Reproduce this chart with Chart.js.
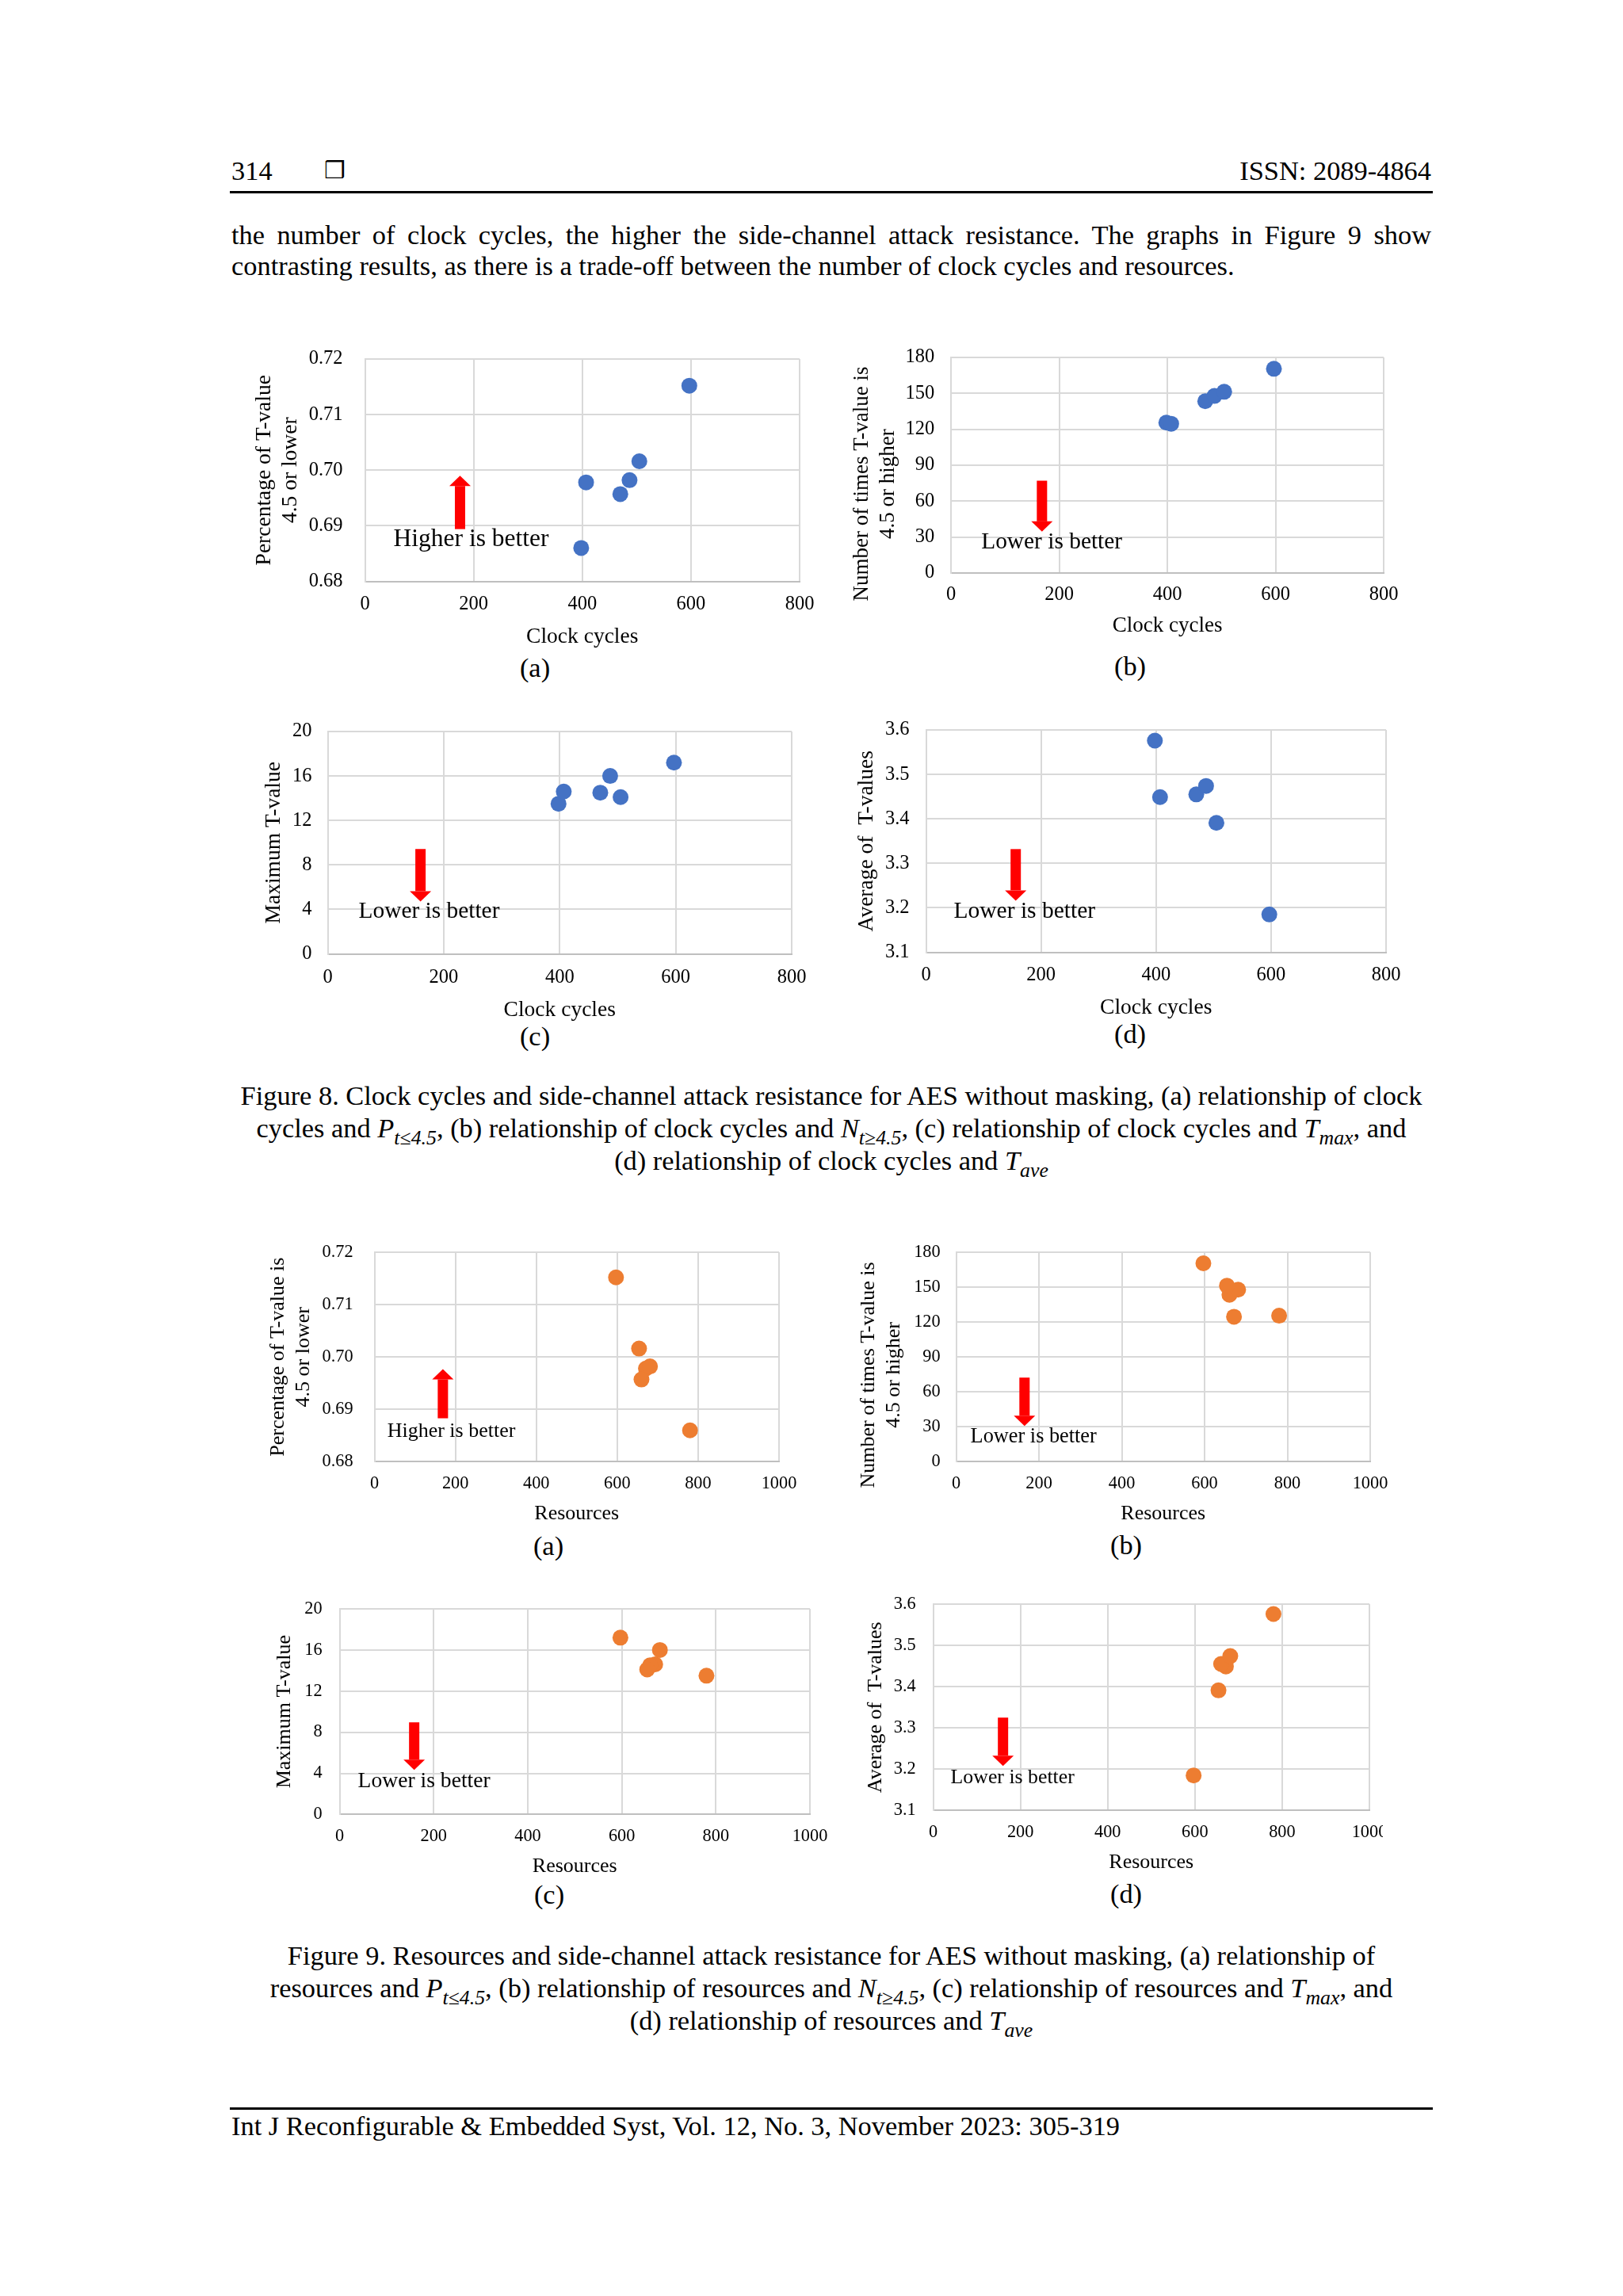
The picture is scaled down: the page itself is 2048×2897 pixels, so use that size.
<!DOCTYPE html>
<html>
<head>
<meta charset="utf-8">
<script src="https://cdn.jsdelivr.net/npm/chart.js@4.4.0/dist/chart.umd.min.js"></script>
<style>
    body { margin: 0; background: #fff; }
    #page { position: relative; width: 2048px; height: 2897px; font-family: "Liberation Serif", "Times New Roman", serif; color: #000; overflow: hidden; }
    .t { position: absolute; font-size: 34.4px; line-height: 40px; white-space: nowrap; }
    .cap { position: absolute; left: 292px; width: 1514px; font-size: 34.4px; line-height: 41px; text-align: center; white-space: nowrap; }
    .rule { position: absolute; left: 290px; width: 1518px; height: 3px; background: #000; }
    .lbl { position: absolute; font-size: 34.4px; line-height: 40px; transform: translateX(-50%); }
    .m { font-style: italic; }
    .m sub { font-size: 0.75em; line-height: 0; vertical-align: -0.35em; }
    .box { position: absolute; overflow: hidden; }
    .box canvas { position: absolute; left: 0; top: 0; }
</style>
</head>
<body>
<div id="page">
    <div class="t" style="left:292px; top:195px;">314</div>
    <div class="t" style="left:409px; top:195px; font-family:'DejaVu Sans'; font-size:30px;">❒</div>
    <div class="t" style="right:242px; top:195px;">ISSN: 2089-4864</div>
    <div class="rule" style="top:241px;"></div>

    <div class="t" style="left:292px; top:276px; width:1514px; white-space:normal; text-align:justify; text-align-last:justify;">the number of clock cycles, the higher the side-channel attack resistance. The graphs in Figure 9 show</div>
    <div class="t" style="left:292px; top:315px;">contrasting results, as there is a trade-off between the number of clock cycles and resources.</div>

    <div class="lbl" style="left:675px; top:822px;">(a)</div>
    <div class="lbl" style="left:1426px; top:820px;">(b)</div>
    <div class="lbl" style="left:675px; top:1287px;">(c)</div>
    <div class="lbl" style="left:1426px; top:1284px;">(d)</div>

    <div class="cap" style="top:1362px;">
        Figure 8. Clock cycles and side-channel attack resistance for AES without masking, (a) relationship of clock<br>
        cycles and <span class="m">P<sub>t≤4.5</sub></span>, (b) relationship of clock cycles and <span class="m">N<sub>t≥4.5</sub></span>, (c) relationship of clock cycles and <span class="m">T<sub>max</sub></span>, and<br>
        (d) relationship of clock cycles and <span class="m">T<sub>ave</sub></span>
    </div>

    <div class="lbl" style="left:692px; top:1930px;">(a)</div>
    <div class="lbl" style="left:1421px; top:1929px;">(b)</div>
    <div class="lbl" style="left:693px; top:2370px;">(c)</div>
    <div class="lbl" style="left:1421px; top:2369px;">(d)</div>

    <div class="cap" style="top:2447px;">
        Figure 9. Resources and side-channel attack resistance for AES without masking, (a) relationship of<br>
        resources and <span class="m">P<sub>t≤4.5</sub></span>, (b) relationship of resources and <span class="m">N<sub>t≥4.5</sub></span>, (c) relationship of resources and <span class="m">T<sub>max</sub></span>, and<br>
        (d) relationship of resources and <span class="m">T<sub>ave</sub></span>
    </div>

    <div class="rule" style="top:2659px;"></div>
    <div class="t" style="left:292px; top:2662px;">Int J Reconfigurable &amp; Embedded Syst, Vol. 12, No. 3, November 2023: 305-319</div>
</div>

<script>
// six AES designs, same order in every array
const clockCycles = [398, 407, 470, 487, 505, 597];
const resources = [780, 671, 660, 681, 654, 597];
const ptLow = [0.686, 0.6978, 0.6957, 0.6982, 0.7016, 0.7152];   // P t<=4.5
const nHigh = [125.5, 124.6, 143.4, 147.8, 151.3, 170.5];        // N t>=4.5
const tMax = [13.5, 14.6, 14.5, 16.0, 14.1, 17.2];
const tAve = [3.576, 3.449, 3.455, 3.474, 3.391, 3.185];

const clockTicks = ['0', '200', '400', '600', '800'];
const resourceTicks = ['0', '200', '400', '600', '800', '1000'];
const ptTicks = ['0.68', '0.69', '0.70', '0.71', '0.72'];
const nTicks = ['0', '30', '60', '90', '120', '150', '180'];
const tMaxTicks = ['0', '4', '8', '12', '16', '20'];
const tAveTicks = ['3.1', '3.2', '3.3', '3.4', '3.5', '3.6'];

const BLUE = '#4472C4';
const ORANGE = '#ED7D31';
const FONT = '"Liberation Serif", "Times New Roman", serif';
const PAD_TOP = 50;   // room above the plot, bigger than chart.js' own label padding
const PAD_RIGHT = 60;

const T_PCT = ['Percentage of T-value', '4.5 or lower'];
// trailing spaces push the rotated title a bit down, as in the original
const T_NUM = ['Number of times T-value is       ', '4.5 or higher       '];

// box = plot area [left, top, width, height] on the page
const charts = [
    { xs: clockCycles, ys: ptLow, xTicks: clockTicks, yTicks: ptTicks, color: BLUE, xTitle: 'Clock cycles', yTitle: T_PCT,
      box: [460, 453, 548, 280], yTitleX: 333, gap: 28, xTickY: 762, xTitleY: 803, tick: 24.5, title: 27.5,
      note: { text: 'Higher is better', size: 31.5, x: 52.6, y: 0.6864, ax: 175, from: 0.6894, to: 0.699 } },
    { xs: clockCycles, ys: nHigh, xTicks: clockTicks, yTicks: nTicks, color: BLUE, xTitle: 'Clock cycles', yTitle: T_NUM,
      box: [1200, 451, 546, 272], yTitleX: 1088, gap: 21, xTickY: 751, xTitleY: 790, tick: 24.5, title: 27,
      note: { text: 'Lower is better', size: 29.4, x: 55.7, y: 20.5, ax: 168, from: 77, to: 34.4 } },
    { xs: clockCycles, ys: tMax, xTicks: clockTicks, yTicks: tMaxTicks, color: BLUE, xTitle: 'Clock cycles', yTitle: 'Maximum T-value',
      box: [413, 923, 585, 280], yTitleX: 345, gap: 20, xTickY: 1233, xTitleY: 1274, tick: 24.5, title: 27.5,
      note: { text: 'Lower is better', size: 29.4, x: 53.3, y: 3.21, ax: 160, from: 9.43, to: 4.71 } },
    { xs: clockCycles, ys: tAve, xTicks: clockTicks, yTicks: tAveTicks, color: BLUE, xTitle: 'Clock cycles', yTitle: 'Average of  T-values',
      box: [1168, 921, 580, 280], yTitleX: 1093, gap: 21, xTickY: 1230, xTitleY: 1271, tick: 24.5, title: 27.5,
      note: { text: 'Lower is better', size: 29.5, x: 48.3, y: 3.177, ax: 156, from: 3.332, to: 3.216 } },
    { xs: resources, ys: ptLow, xTicks: resourceTicks, yTicks: ptTicks, color: ORANGE, xTitle: 'Resources', yTitle: ['Percentage of T-value is', '4.5 or lower'],
      box: [473, 1580, 510, 264], yTitleX: 352, gap: 27, xTickY: 1872, xTitleY: 1910, tick: 22.3, title: 26,
      note: { text: 'Higher is better', size: 26, x: 31.4, y: 0.6848, ax: 169, from: 0.6883, to: 0.6977 } },
    { xs: resources, ys: nHigh, xTicks: resourceTicks, yTicks: nTicks, color: ORANGE, xTitle: 'Resources', yTitle: T_NUM,
      box: [1207, 1580, 522, 264], yTitleX: 1097, gap: 20, xTickY: 1872, xTitleY: 1910, tick: 22.3, title: 26,
      note: { text: 'Lower is better', size: 26.3, x: 34.5, y: 16.4, ax: 165, from: 72.3, to: 30.7 } },
    { xs: resources, ys: tMax, xTicks: resourceTicks, yTicks: tMaxTicks, color: ORANGE, xTitle: 'Resources', yTitle: 'Maximum T-value',
      box: [429, 2030, 593, 259], yTitleX: 360, gap: 22, xTickY: 2317, xTitleY: 2355, tick: 22.3, title: 26,
      note: { text: 'Lower is better', size: 27.6, x: 38.8, y: 2.63, ax: 158.5, from: 8.96, to: 4.33 } },
    { xs: resources, ys: tAve, xTicks: resourceTicks, yTicks: tAveTicks, color: ORANGE, xTitle: 'Resources', yTitle: 'Average of  T-values',
      box: [1178, 2024, 550, 260], yTitleX: 1106, gap: 22, xTickY: 2312, xTitleY: 2350, tick: 22.3, title: 26, clipRight: 1745,
      note: { text: 'Lower is better', size: 25.8, x: 40, y: 3.167, ax: 160, from: 3.325, to: 3.208 } }
];

function notePlugin(n) {
    return {
        id: 'note',
        afterDraw(chart) {
            const { ctx, scales: { x, y } } = chart;
            const px = x.getPixelForValue(n.ax);
            const p0 = y.getPixelForValue(n.from);
            const p1 = y.getPixelForValue(n.to);
            const dir = Math.sign(p1 - p0);
            const headBase = p1 - dir * 13;
            ctx.save();
            ctx.fillStyle = '#ff0000';
            ctx.fillRect(px - 6.5, Math.min(p0, headBase), 13, Math.abs(headBase - p0));
            ctx.beginPath();
            ctx.moveTo(px - 13.5, headBase);
            ctx.lineTo(px + 13.5, headBase);
            ctx.lineTo(px, p1);
            ctx.closePath();
            ctx.fill();
            ctx.fillStyle = '#000';
            ctx.font = `${n.size}px ${FONT}`;
            ctx.textBaseline = 'alphabetic';
            ctx.fillText(n.text, x.getPixelForValue(n.x), y.getPixelForValue(n.y));
            ctx.restore();
        }
    };
}

function build(c) {
    const [L, T, W, H] = c.box;
    const lh = c.title * 1.2;
    const left = c.yTitleX - lh / 2;
    const yw = L - left;
    const xh = c.xTitleY - (T + H) + lh / 2;
    const cw = Math.round(yw + W + PAD_RIGHT);
    const ch = Math.round(PAD_TOP + H + xh);

    const wrap = document.createElement('div');
    wrap.className = 'box';
    wrap.style.left = left + 'px';
    wrap.style.top = (T - PAD_TOP) + 'px';
    wrap.style.width = (c.clipRight ? c.clipRight - left : cw) + 'px';
    wrap.style.height = ch + 'px';
    const cv = document.createElement('canvas');
    cv.width = cw;
    cv.height = ch;
    wrap.appendChild(cv);
    document.getElementById('page').appendChild(wrap);

    const xv = c.xTicks.map(Number);
    const yv = c.yTicks.map(Number);
    const tickFont = { family: FONT, size: c.tick };
    const titleFont = { family: FONT, size: c.title };

    new Chart(cv.getContext('2d'), {
        type: 'scatter',
        data: {
            datasets: [{
                data: c.xs.map((x, i) => ({ x, y: c.ys[i] })),
                backgroundColor: c.color,
                borderWidth: 0,
                pointRadius: 10,
                pointHoverRadius: 10
            }]
        },
        options: {
            responsive: false,
            animation: false,
            devicePixelRatio: 1,
            events: [],
            layout: { padding: { top: PAD_TOP, right: PAD_RIGHT, left: 0, bottom: 0 } },
            plugins: { legend: { display: false }, tooltip: { enabled: false } },
            scales: {
                x: {
                    type: 'linear',
                    min: xv[0],
                    max: xv[xv.length - 1],
                    afterBuildTicks: s => { s.ticks = xv.map(v => ({ value: v })); },
                    afterFit: s => { s.height = xh; },
                    ticks: {
                        callback: (v, i) => c.xTicks[i],
                        padding: c.xTickY - (T + H) - 0.6 * c.tick,
                        font: tickFont,
                        color: '#000',
                        maxRotation: 0
                    },
                    grid: { color: '#d9d9d9', lineWidth: 2, drawTicks: false },
                    border: { color: '#bfbfbf', width: 2 },
                    title: { display: true, text: c.xTitle, font: titleFont, color: '#000', padding: 0 }
                },
                y: {
                    type: 'linear',
                    min: yv[0],
                    max: yv[yv.length - 1],
                    afterBuildTicks: s => { s.ticks = yv.map(v => ({ value: v })); },
                    afterFit: s => { s.width = yw; },
                    ticks: {
                        callback: (v, i) => c.yTicks[i],
                        padding: c.gap,
                        font: tickFont,
                        color: '#000'
                    },
                    grid: { color: '#d9d9d9', lineWidth: 2, drawTicks: false },
                    border: { color: '#d9d9d9', width: 2 },
                    title: { display: true, text: c.yTitle, font: titleFont, color: '#000', padding: 0 }
                }
            }
        },
        plugins: [notePlugin(c.note)]
    });
}

charts.forEach(build);
</script>
</body>
</html>
